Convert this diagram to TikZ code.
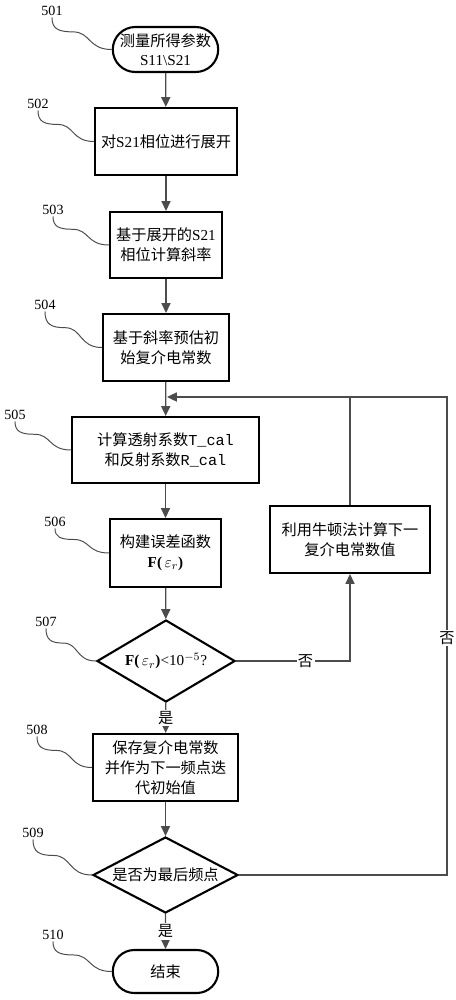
\documentclass[tikz,border=0pt]{standalone}
\usepackage{fontspec}
\setmainfont{Liberation Serif}
\newfontfamily\cjk{Noto Sans CJK SC}
\newfontfamily\monofnt{Liberation Mono}
\usetikzlibrary{arrows.meta,calc,positioning,shapes.geometric,shapes.misc}
\newcommand{\zh}[1]{{\cjk #1}}

\tikzset{
  box/.style={draw, line width=1.5pt, align=center, inner sep=2pt,
              font=\fontsize{10.8}{14}\selectfont},
  term/.style={box, rounded rectangle},
  decide/.style={box, diamond, inner sep=0pt},
  flow/.style={draw=black!70, line width=0.9pt,
               -{Triangle[length=7pt,width=6.5pt]}},
  wire/.style={draw=black!70, line width=0.9pt},
  tag/.style={font=\fontsize{10}{12}\selectfont, inner sep=1pt},
  lbl/.style={fill=white, inner sep=1pt, font=\fontsize{10.8}{12}\selectfont},
  leader/.style={draw=black!70, line width=0.7pt, to path={
      let \p1=(\tikztostart), \p2=(\tikztotarget) in
      (\p1) .. controls (\x1,{\y1+0.35*(\y2-\y1)})
            and ({\x1+0.1*(\x2-\x1)},{\y1+0.45*(\y2-\y1)})
         .. ({\x1+0.35*(\x2-\x1)},{\y1+0.45*(\y2-\y1)})
         .. controls ({\x1+0.65*(\x2-\x1)},{\y1+0.45*(\y2-\y1)})
            and ({\x1+0.6*(\x2-\x1)},\y2) .. (\p2)}}
}

\begin{document}
\begin{tikzpicture}[x=0.025cm, y=-0.025cm]
 \useasboundingbox (0,0) rectangle (455,1000);

 % Add the steps
 \node[term, minimum width=2.775cm, minimum height=1.125cm]
     (s501) at (165.5,49.5) {\zh{测量所得参数}\\S11\textbackslash S21};
 \node[box, minimum width=3.55cm, minimum height=1.675cm]
     (s502) at (166,141.5) {\zh{对}S21\zh{相位进行展开}};
 \node[box, minimum width=2.8cm, minimum height=1.65cm]
     (s503) at (166,245) {\zh{基于展开的}S21\\\zh{相位计算斜率}};
 \node[box, minimum width=3.15cm, minimum height=1.675cm]
     (s504) at (166,347.5) {\zh{基于斜率预估初}\\\zh{始复介电常数}};
 \node[box, minimum width=4.675cm, minimum height=1.65cm]
     (s505) at (165.5,450)
     {\zh{计算透射系数}{\monofnt T\_cal}\\\zh{和反射系数}{\monofnt R\_cal}};
 \node[box, minimum width=2.775cm, minimum height=1.7cm]
     (s506) at (165.5,553)
     {\zh{构建误差函数}\\\textbf{F(}\,$\varepsilon_r$\textbf{)}};
 \node[box, minimum width=4cm, minimum height=1.675cm]
     (newton) at (350,539.5) {\zh{利用牛顿法计算下一}\\\zh{复介电常数值}};
 \node[decide, aspect=1.68, minimum width=3.45cm, minimum height=2.05cm]
     (d507) at (166,661) {\textbf{F(}\,$\varepsilon_r$\textbf{)}<10$^{-5}$?};
 \node[box, minimum width=3.625cm, minimum height=1.675cm]
     (s508) at (165.5,767.5)
     {\zh{保存复介电常数}\\\zh{并作为下一频点迭}\\\zh{代初始值}};
 \node[decide, aspect=1.9, minimum width=3.625cm, minimum height=1.9cm]
     (d509) at (165.5,875) {\zh{是否为最后频点}};
 \node[term, minimum width=2.775cm, minimum height=1.075cm]
     (s510) at (165.5,971.5) {\zh{结束}};

 % Add the step numbers
 \node[tag] (l501) at (52,11)  {501};
 \node[tag] (l502) at (38,104) {502};
 \node[tag] (l503) at (53,210) {503};
 \node[tag] (l504) at (45,305) {504};
 \node[tag] (l505) at (15,415) {505};
 \node[tag] (l506) at (55,522) {506};
 \node[tag] (l507) at (46,622) {507};
 \node[tag] (l508) at (37,730) {508};
 \node[tag] (l509) at (33,833) {509};
 \node[tag] (l510) at (53,935) {510};

 \foreach \k in {501,502,503,504,505,506,508,510}
   \draw[leader] (l\k.south) to (s\k.west);
 \draw[leader] (l507.south) to (d507.west);
 \draw[leader] (l509.south) to (d509.west);

 % Connect the steps
 \coordinate (fb) at (167,397);
 \coordinate (fbjoin) at (350,397);
 \coordinate (c509) at (447,397);
 \draw[flow] (s501) -- (s502);
 \draw[flow] (s502) -- (s503);
 \draw[flow] (s503) -- (s504);
 \draw[flow] (s504) -- (s505);
 \draw[flow] (s505) -- (s506);
 \draw[flow] (s506) -- (d507);
 \draw[flow] (d507) -- node[lbl] {\zh{是}} (s508);
 \draw[flow] (s508) -- (d509);
 \draw[flow] (d509) -- node[lbl] {\zh{是}} (s510);

 % Loops back
 \draw[flow] (d507.east) -| node[lbl, pos=0.305] {\zh{否}} (newton.south);
 \draw[flow] (newton.north) |- (fb);
 \draw[wire] (d509.east) -| node[lbl, pos=0.748] {\zh{否}} (c509) -- (fbjoin);
\end{tikzpicture}
\end{document}
